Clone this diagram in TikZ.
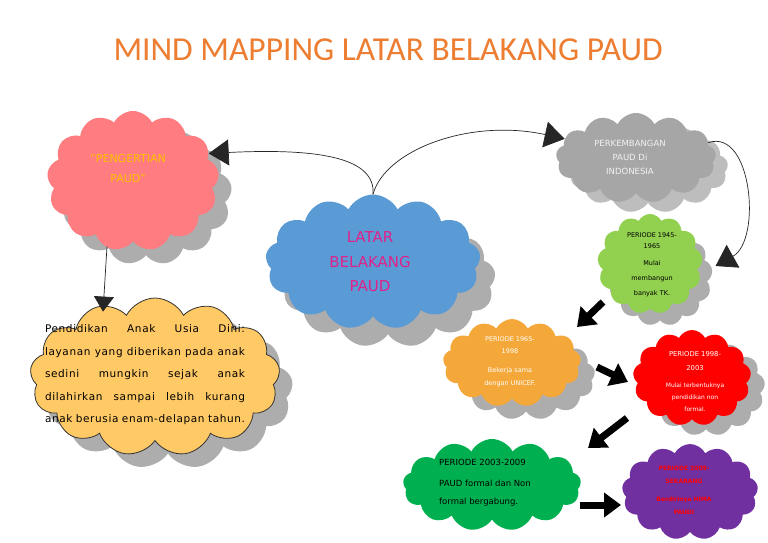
\documentclass[tikz,border=0pt]{standalone}
\usepackage{fontspec}
\setmainfont{DejaVu Sans}
\newfontfamily\titlefont{Carlito}
\newfontfamily\yellowfont[LetterSpace=6]{DejaVu Sans}
\usetikzlibrary{shapes.symbols,arrows.meta,calc}
\definecolor{titleor}{HTML}{ED7D31}
\definecolor{shadowgray}{HTML}{ADADAD}
\definecolor{shadowlight}{HTML}{BDBDBD}
\definecolor{pinkfill}{HTML}{FF7C80}
\definecolor{pinktext}{HTML}{FFC000}
\definecolor{bluefill}{HTML}{5B9BD5}
\definecolor{bluetext}{HTML}{E0218A}
\definecolor{grayfill}{HTML}{A6A6A6}
\definecolor{lgreenfill}{HTML}{92D050}
\definecolor{orangefill}{HTML}{F4A83A}
\definecolor{redfill}{HTML}{FF0000}
\definecolor{dgreenfill}{HTML}{00B050}
\definecolor{purplefill}{HTML}{7030A0}
\definecolor{yellowfill}{HTML}{FFC965}
\newcommand{\jline}[1]{\makebox[200pt][s]{#1}}
\begin{document}
\begin{tikzpicture}[x=1pt,y=-1pt,
  cl/.style={cloud, cloud puffs=13, cloud puff arc=125, cloud ignores aspect, inner sep=0pt, draw=none},
  shadowcl/.style={cl, fill=shadowgray},
  txt/.style={inner sep=0pt, align=center},
  thinarrow/.style={draw=black!85, line width=0.7pt, -{Triangle[length=20pt,width=26pt]}},
  blockarrow/.style={draw=black, line width=7pt, -{Triangle[length=17pt,width=24pt]}}]
\useasboundingbox[fill=white] (0,0) rectangle (768,543);

% title
\node[txt, text=titleor, font=\titlefont\fontsize{33.5}{37}\selectfont] (title) at (388,50) {MIND MAPPING LATAR BELAKANG PAUD};

% shadows
\node[shadowcl, minimum width=172pt, minimum height=140pt] (pinksh) at (146,195) {};
\node[shadowcl, minimum width=215pt, minimum height=135pt] (bluesh) at (388,280) {};
\node[shadowcl, fill=shadowlight, minimum width=160pt, minimum height=90pt] (graysh) at (648,168) {};
\node[shadowcl, minimum width=105pt, minimum height=100pt] (green1sh) at (660,276) {};
\node[shadowcl, minimum width=138pt, minimum height=88pt] (orangesh) at (526,376) {};
\node[shadowcl, minimum width=118pt, minimum height=96pt] (redsh) at (706,388) {};
\node[shadowcl, minimum width=250pt, minimum height=158pt] (yellowsh) at (168,390) {};

% clouds
\node[cl, fill=pinkfill, minimum width=172pt, minimum height=140pt] (pink) at (133,181) {};
\node[cl, fill=bluefill, minimum width=215pt, minimum height=135pt] (blue) at (373,262) {};
\node[cl, fill=grayfill, minimum width=160pt, minimum height=90pt] (gray) at (636,158) {};
\node[cl, fill=lgreenfill, minimum width=105pt, minimum height=100pt] (green1) at (650,264) {};
\node[cl, fill=orangefill, minimum width=138pt, minimum height=88pt] (orange) at (512,363) {};
\node[cl, fill=redfill, minimum width=118pt, minimum height=96pt] (red) at (692,378) {};
\node[cl, fill=dgreenfill, minimum width=178pt, minimum height=92pt] (green2) at (492,485) {};
\node[cl, fill=purplefill, minimum width=136pt, minimum height=96pt] (purple) at (690,492) {};
\node[cl, fill=yellowfill, draw=black!80, line width=0.8pt, minimum width=250pt, minimum height=158pt] (yellow) at (155,377) {};

% texts
\node[txt, text=pinktext, font=\fontsize{11}{20}\selectfont] (pinkt) at (128,168) {"PENGERTIAN\\PAUD"};
\node[txt, text=bluetext, font=\fontsize{15}{24.5}\selectfont] (bluet) at (370,262) {LATAR\\BELAKANG\\PAUD};
\node[txt, text=white!95!black, font=\fontsize{8.5}{14}\selectfont] (grayt) at (630,157) {PERKEMBANGAN\\PAUD Di\\INDONESIA};
\node[txt, text=black, font=\fontsize{6.5}{15}\selectfont] (green1t) at (652,265) {PERIODE 1945-\\[-4pt]1965\\[2pt]Mulai\\membangun\\banyak TK.};
\node[txt, text=white, font=\fontsize{6.5}{13}\selectfont] (oranget) at (510,362) {PERIODE 1965-\\[-1pt]1998\\[6pt]Bekerja sama\\dengan UNICEF.};
\node[txt, text=white, font=\fontsize{6}{12}\selectfont] (redt) at (695,382) {\fontsize{6.8}{12}\selectfont PERIODE 1998-\\[2pt]\fontsize{6.8}{12}\selectfont 2003\\[5pt]Mulai terbentuknya\\pendidikan non\\formal.};
\node[txt, align=left, text=black, font=\fontsize{8.5}{18}\selectfont] (green2t) at (485,483) {PERIODE 2003-2009\\[3pt]PAUD formal dan Non\\formal bergabung.};
\node[txt, text=red, font=\bfseries\fontsize{6}{13}\selectfont] (purplet) at (684,490) {PERIODE 2009-\\SEKARANG\\[5pt]Berdirinya HIMA\\PAUDI};
\node[txt, align=left, font=\yellowfont\fontsize{10.5}{22.5}\selectfont] (yellowt) at (145,375)
  {\jline{Pendidikan Anak Usia Dini:}\\\jline{layanan yang diberikan pada anak}\\\jline{sedini mungkin sejak anak}\\\jline{dilahirkan sampai lebih kurang}\\\jline{anak berusia enam-delapan tahun.}};

% thin connectors
\draw[thinarrow] (blue.north) .. controls (376,158) and (320,148) .. (pink.20);
\draw[thinarrow] (blue.north) .. controls (385,150) and (470,118) .. (gray.165);
\draw[thinarrow] (gray.12) .. controls (752,128) and (762,240) .. ([xshift=14pt,yshift=-2pt]green1.east);
\draw[thinarrow, -{Triangle[length=15pt,width=20pt]}] ([xshift=-26pt,yshift=-5pt]pink.south) -- ([xshift=-52pt,yshift=-14pt]yellow.north);

% block arrows
\coordinate (a1s) at (603,302); \coordinate (a1e) at (577,327);
\coordinate (a2s) at (597,367); \coordinate (a2e) at (628,382);
\coordinate (a3s) at (627,418); \coordinate (a3e) at (588,448);
\coordinate (a4s) at (580,505); \coordinate (a4e) at (621,505);
\draw[blockarrow] (a1s) -- (a1e);
\draw[blockarrow] (a2s) -- (a2e);
\draw[blockarrow] (a3s) -- (a3e);
\draw[blockarrow] (a4s) -- (a4e);
\end{tikzpicture}
\end{document}
